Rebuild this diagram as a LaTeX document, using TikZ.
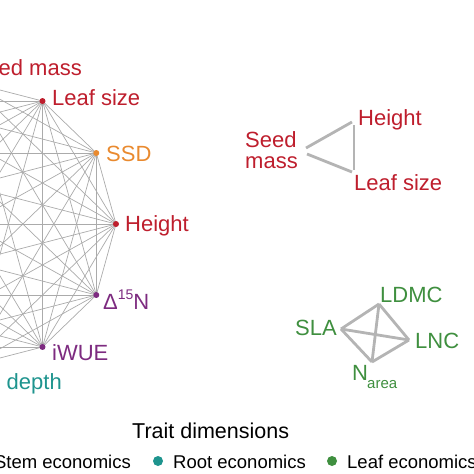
\documentclass[tikz,border=0pt]{standalone}
\usepackage{fontspec}
\setmainfont{Liberation Sans}
\definecolor{tred}{HTML}{BE1E2D}
\definecolor{torange}{HTML}{E98A2F}
\definecolor{tpurple}{HTML}{7D2B80}
\definecolor{tteal}{HTML}{1E948E}
\definecolor{tgreen}{HTML}{3F8F3F}
\definecolor{edgegray}{HTML}{ABABAB}
\definecolor{thickgray}{HTML}{B4B4B4}
\tikzset{
  lbl/.style={inner sep=0pt, anchor=base west, font=\fontsize{22}{26}\selectfont},
  lble/.style={inner sep=0pt, anchor=base east, font=\fontsize{22}{26}\selectfont},
  thinedge/.style={draw=edgegray, line width=0.7pt},
  thickedge/.style={draw=thickgray, line width=2.8pt},
  traitdot/.style={circle, inner sep=0pt, minimum size=6pt},
  legdot/.style={circle, inner sep=0pt, minimum size=10pt},
  legtext/.style={inner sep=0pt, anchor=base west, font=\fontsize{18.5}{22}\selectfont},
}
\begin{document}
\begin{tikzpicture}[x=1pt,y=-1pt]
\useasboundingbox (0,0) rectangle (474,474);
\begin{scope}
\clip (0,0) rectangle (474,474);
\foreach \k in {0,...,11} {
  \coordinate (n\k) at ({-31+147*cos(30*\k)},{224-142*sin(30*\k)});
}
\foreach \i in {0,...,10} {
  \pgfmathtruncatemacro\jj{\i+1}
  \foreach \j in {\jj,...,11} {
    \draw[thinedge] (n\i) -- (n\j);
  }
}
\node[traitdot, fill=tred] (dheight) at (n0) {};
\node[traitdot, fill=torange] (dssd) at (n1) {};
\node[traitdot, fill=tred] (dleaf) at (n2) {};
\node[traitdot, fill=tred] (dseed) at (n3) {};
\node[traitdot, fill=tteal] (droot) at (n9) {};
\node[traitdot, fill=tpurple] (diwue) at (n10) {};
\node[traitdot, fill=tpurple] (dn15) at (n11) {};
\end{scope}

% circular network labels
\node[lble, text=tred] (lseed) at (82,75) {Seed mass};
\node[lbl, text=tred] (lleaf) at (52,105) {Leaf size};
\node[lbl, text=torange] (lssd) at (106,161) {SSD};
\node[lbl, text=tred] (lheight) at (125,231) {Height};
\node[lbl, text=tpurple] (ln15) at (103,309) {Δ\raisebox{0.42em}{\fontsize{14}{14}\selectfont 15}N};
\node[lbl, text=tpurple] (liwue) at (52,360) {iWUE};
\node[lble, text=tteal] (lroot) at (62,389) {Rooting depth};

% size triangle
\coordinate (smH) at (306,148);
\coordinate (smL) at (307,154);
\coordinate (htS) at (352,122);
\coordinate (htL) at (354,125);
\coordinate (lfS) at (352,172);
\coordinate (lfH) at (354,170);
\draw[thickedge] (smH) -- (htS);
\draw[thickedge] (smL) -- (lfS);
\draw[thickedge] (htL) -- (lfH);
\node[lbl, text=tred] (rseed) at (245,147) {Seed};
\node[lbl, text=tred] (rmass) at (245,168) {mass};
\node[lbl, text=tred] (rheight) at (358,125) {Height};
\node[lbl, text=tred] (rleaf) at (354,190) {Leaf size};

% leaf economics
\coordinate (sla) at (341,329);
\coordinate (ldmc) at (379,304);
\coordinate (lnc) at (409,340);
\coordinate (na) at (372,362);
\draw[thickedge] (sla) -- (ldmc);
\draw[thickedge] (ldmc) -- (lnc);
\draw[thickedge] (sla) -- (lnc);
\draw[thickedge] (sla) -- (na);
\draw[thickedge] (ldmc) -- (na);
\draw[thickedge] (na) -- (lnc);
\node[lbl, text=tgreen] (tldmc) at (380,302) {LDMC};
\node[lbl, text=tgreen] (tsla) at (295,335) {SLA};
\node[lbl, text=tgreen] (tlnc) at (415,348) {LNC};
\node[lbl, text=tgreen] (tn) at (352,380) {N};
\node[inner sep=0pt, anchor=base west, text=tgreen, font=\fontsize{15}{18}\selectfont] (tarea) at (367,388) {area};

% legend
\node[inner sep=0pt, anchor=base west, font=\fontsize{21.5}{26}\selectfont] (legtitle) at (132,438) {Trait dimensions};
\node[inner sep=0pt, anchor=base east, font=\fontsize{18.5}{22}\selectfont] (legstem) at (131,468) {Stem economics};
\node[legdot, fill=tteal] (legrootdot) at (158,461) {};
\node[legtext] (legroot) at (173,468) {Root economics};
\node[legdot, fill=tgreen] (legleafdot) at (332,461) {};
\node[legtext] (legleaf) at (347,468) {Leaf economics};
\end{tikzpicture}
\end{document}
